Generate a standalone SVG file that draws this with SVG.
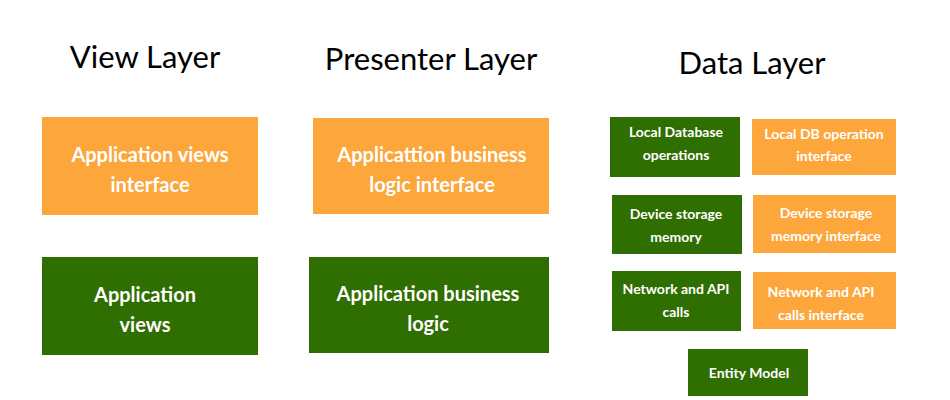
<svg xmlns="http://www.w3.org/2000/svg" width="950" height="400" viewBox="0 0 950 400">
<style>
.g{fill:#2f6e00}.o{fill:#fca63c}
.t{font-family:Lato,"Open Sans",sans-serif;font-weight:bold;fill:#fff;text-anchor:middle}
.h{font-family:Lato,"Open Sans",sans-serif;font-size:31px;fill:#000;text-anchor:middle}
</style>
<rect width="950" height="400" fill="#fff"/>
<text class="h" x="145" y="68">View Layer</text>
<text class="h" x="431" y="70">Presenter Layer</text>
<text class="h" x="752" y="74">Data Layer</text>
<g id="avi"><rect class="o" x="42" y="117" width="216" height="98"/><text class="t" font-size="20"><tspan x="150" y="162">Application views</tspan><tspan x="150" y="192">interface</tspan></text></g>
<g id="av"><rect class="g" x="42" y="257" width="216" height="98"/><text class="t" font-size="20"><tspan x="145" y="302">Application</tspan><tspan x="145" y="332">views</tspan></text></g>
<g id="abli"><rect class="o" x="313" y="118" width="236" height="96"/><text class="t" font-size="20"><tspan x="432" y="162">Applicattion business</tspan><tspan x="432" y="192">logic interface</tspan></text></g>
<g id="abl"><rect class="g" x="309" y="257" width="240" height="96"/><text class="t" font-size="20"><tspan x="428" y="301">Application business</tspan><tspan x="428" y="331">logic</tspan></text></g>
<g id="ldo"><rect class="g" x="610" y="117" width="130" height="60"/><text class="t" font-size="14"><tspan x="676" y="137">Local Database</tspan><tspan x="676" y="160">operations</tspan></text></g>
<g id="ldi"><rect class="o" x="752" y="119" width="144" height="56"/><text class="t" font-size="14"><tspan x="824" y="139">Local DB operation</tspan><tspan x="824" y="161">interface</tspan></text></g>
<g id="dsm"><rect class="g" x="612" y="195" width="130" height="59"/><text class="t" font-size="14"><tspan x="676" y="219">Device storage</tspan><tspan x="676" y="242">memory</tspan></text></g>
<g id="dsi"><rect class="o" x="753" y="195" width="143" height="58"/><text class="t" font-size="14"><tspan x="826" y="218">Device storage</tspan><tspan x="826" y="241">memory interface</tspan></text></g>
<g id="nac"><rect class="g" x="612" y="271" width="129" height="60"/><text class="t" font-size="14"><tspan x="676" y="294">Network and API</tspan><tspan x="676" y="317">calls</tspan></text></g>
<g id="nai"><rect class="o" x="753" y="272" width="143" height="57"/><text class="t" font-size="14"><tspan x="821" y="297">Network and API</tspan><tspan x="821" y="320">calls interface</tspan></text></g>
<g id="em"><rect class="g" x="688" y="349" width="120" height="47"/><text class="t" font-size="14" x="749" y="378">Entity Model</text></g>
<g id="connectors"/>
</svg>
